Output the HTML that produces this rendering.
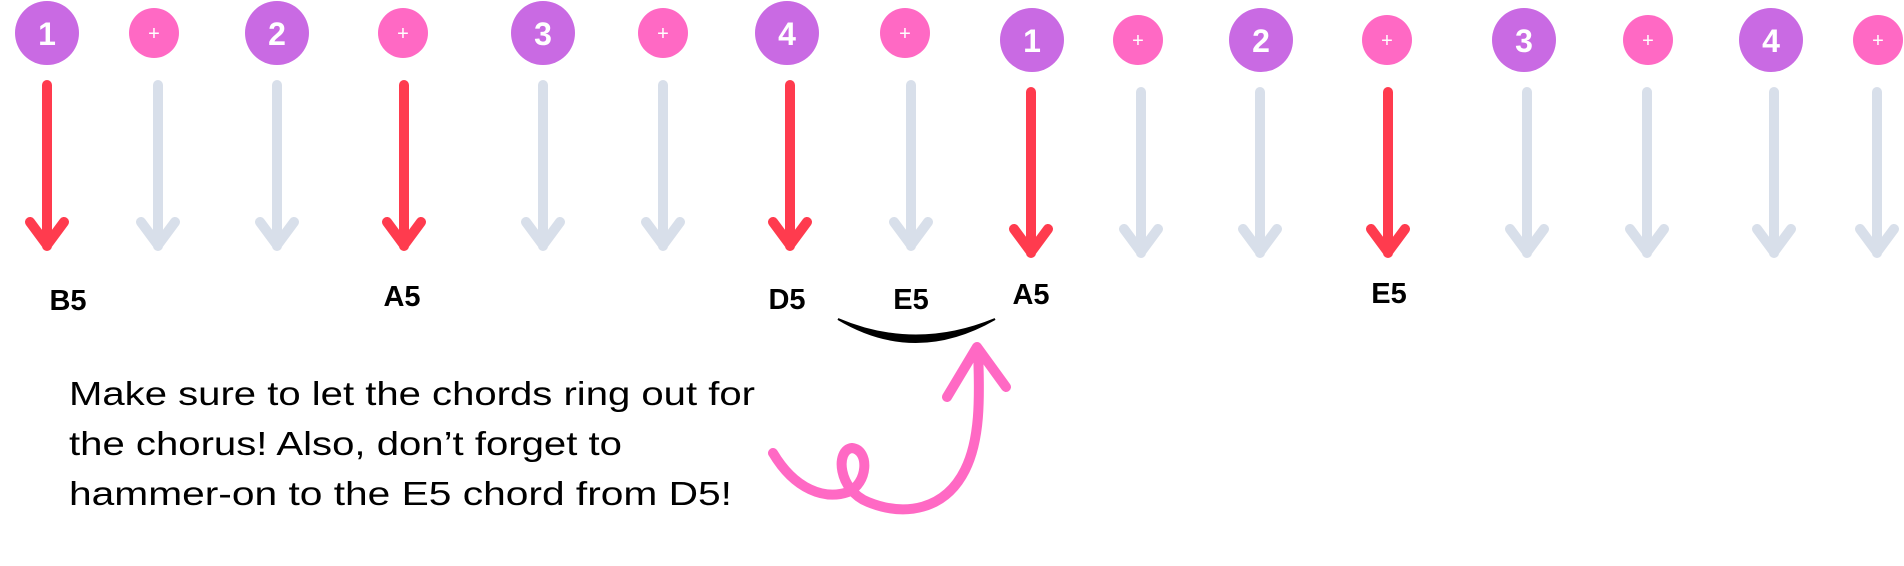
<!DOCTYPE html>
<html><head><style>
html,body{margin:0;padding:0;background:#fff;}
svg{display:block;}
</style></head><body>
<svg width="1904" height="566" viewBox="0 0 1904 566" xmlns="http://www.w3.org/2000/svg">
<g font-family="Liberation Sans, sans-serif" font-weight="bold" fill="#fff" text-anchor="middle">
<!-- left half circles -->
<circle cx="47" cy="33" r="32" fill="#c96ae3"/><text x="47" y="45" font-size="32" fill="#fff">1</text>
<circle cx="154" cy="33" r="25" fill="#ff69c4"/><text x="154" y="40" font-size="20" font-weight="normal" fill="#fff">+</text>
<circle cx="277" cy="33" r="32" fill="#c96ae3"/><text x="277" y="45" font-size="32" fill="#fff">2</text>
<circle cx="403" cy="33" r="25" fill="#ff69c4"/><text x="403" y="40" font-size="20" font-weight="normal" fill="#fff">+</text>
<circle cx="543" cy="33" r="32" fill="#c96ae3"/><text x="543" y="45" font-size="32" fill="#fff">3</text>
<circle cx="663" cy="33" r="25" fill="#ff69c4"/><text x="663" y="40" font-size="20" font-weight="normal" fill="#fff">+</text>
<circle cx="787" cy="33" r="32" fill="#c96ae3"/><text x="787" y="45" font-size="32" fill="#fff">4</text>
<circle cx="905" cy="33" r="25" fill="#ff69c4"/><text x="905" y="40" font-size="20" font-weight="normal" fill="#fff">+</text>
<!-- right half -->
<circle cx="1032" cy="40" r="32" fill="#c96ae3"/><text x="1032" y="52" font-size="32" fill="#fff">1</text>
<circle cx="1138" cy="40" r="25" fill="#ff69c4"/><text x="1138" y="47" font-size="20" font-weight="normal" fill="#fff">+</text>
<circle cx="1261" cy="40" r="32" fill="#c96ae3"/><text x="1261" y="52" font-size="32" fill="#fff">2</text>
<circle cx="1387" cy="40" r="25" fill="#ff69c4"/><text x="1387" y="47" font-size="20" font-weight="normal" fill="#fff">+</text>
<circle cx="1524" cy="40" r="32" fill="#c96ae3"/><text x="1524" y="52" font-size="32" fill="#fff">3</text>
<circle cx="1648" cy="40" r="25" fill="#ff69c4"/><text x="1648" y="47" font-size="20" font-weight="normal" fill="#fff">+</text>
<circle cx="1771" cy="40" r="32" fill="#c96ae3"/><text x="1771" y="52" font-size="32" fill="#fff">4</text>
<circle cx="1878" cy="40" r="25" fill="#ff69c4"/><text x="1878" y="47" font-size="20" font-weight="normal" fill="#fff">+</text>
</g>
<g fill="none" stroke-width="10" stroke-linecap="round" stroke-linejoin="round">
<g stroke="#ff3b4e">
<path d="M47 85V246M30 222L47 245L64 222"/>
<path d="M404 85V246M387 222L404 245L421 222"/>
<path d="M790 85V246M773 222L790 245L807 222"/>
<path d="M1031 92V253M1014 229L1031 252L1048 229"/>
<path d="M1388 92V253M1371 229L1388 252L1405 229"/>
</g>
<g stroke="#d8dfea">
<path d="M158 85V246M141 222L158 245L175 222"/>
<path d="M277 85V246M260 222L277 245L294 222"/>
<path d="M543 85V246M526 222L543 245L560 222"/>
<path d="M663 85V246M646 222L663 245L680 222"/>
<path d="M911 85V246M894 222L911 245L928 222"/>
<path d="M1141 92V253M1124 229L1141 252L1158 229"/>
<path d="M1260 92V253M1243 229L1260 252L1277 229"/>
<path d="M1527 92V253M1510 229L1527 252L1544 229"/>
<path d="M1647 92V253M1630 229L1647 252L1664 229"/>
<path d="M1774 92V253M1757 229L1774 252L1791 229"/>
<path d="M1877 92V253M1860 229L1877 252L1894 229"/>
</g>
</g>
<g font-family="Liberation Sans, sans-serif" font-weight="bold" font-size="29" fill="#000" text-anchor="middle">
<text x="68" y="310">B5</text>
<text x="402" y="306">A5</text>
<text x="787" y="309">D5</text>
<text x="911" y="309">E5</text>
<text x="1031" y="304">A5</text>
<text x="1389" y="303">E5</text>
</g>
<path d="M838 319 Q915 365 995 319 Q915 352 838 319Z" fill="#000" stroke="#000" stroke-width="2"/>
<g fill="none" stroke="#ff69c4" stroke-width="10" stroke-linecap="round" stroke-linejoin="round">
<path d="M773 453 C795 490 825 500 848 492 C868 484 870 450 852 448 C835 450 838 490 868 502 C905 517 945 510 965 470 C980 440 980 400 978 350"/>
<path d="M947 397 L977 347 L1006 387"/>
</g>
<g font-family="Liberation Sans, sans-serif" font-size="33" fill="#000">
<text x="69" y="405" textLength="686" lengthAdjust="spacingAndGlyphs">Make sure to let the chords ring out for</text>
<text x="69" y="455" textLength="553" lengthAdjust="spacingAndGlyphs">the chorus! Also, don’t forget to</text>
<text x="69" y="505" textLength="663" lengthAdjust="spacingAndGlyphs">hammer-on to the E5 chord from D5!</text>
</g>
</svg>
</body></html>
